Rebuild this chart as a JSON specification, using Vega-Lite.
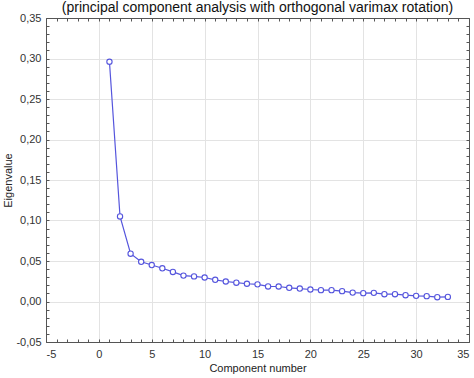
{
  "$schema": "https://vega.github.io/schema/vega-lite/v6.json",
  "width": 423,
  "height": 324,
  "autosize": "none",
  "padding": {"left": 46, "top": 18, "right": 5, "bottom": 36},
  "background": "white",
  "title": {
    "text": "(principal component analysis with orthogonal varimax rotation)",
    "font": "Liberation Sans",
    "fontSize": 14,
    "fontWeight": "normal",
    "color": "#111111",
    "anchor": "middle",
    "offset": -3
  },
  "config": {
    "view": {"stroke": null},
    "axis": {
      "labelFont": "Liberation Sans",
      "titleFont": "Liberation Sans",
      "labelFontSize": 11,
      "titleFontSize": 11,
      "titleFontWeight": "normal",
      "labelColor": "#333333",
      "titleColor": "#222222",
      "domainColor": "#555555",
      "tickColor": "#555555",
      "gridColor": "#e3e3e3"
    }
  },
  "data": {
    "values": [
      {"component": 1, "eigenvalue": 0.296},
      {"component": 2, "eigenvalue": 0.105},
      {"component": 3, "eigenvalue": 0.059},
      {"component": 4, "eigenvalue": 0.049},
      {"component": 5, "eigenvalue": 0.045},
      {"component": 6, "eigenvalue": 0.041},
      {"component": 7, "eigenvalue": 0.0365},
      {"component": 8, "eigenvalue": 0.032},
      {"component": 9, "eigenvalue": 0.031},
      {"component": 10, "eigenvalue": 0.0296},
      {"component": 11, "eigenvalue": 0.0268},
      {"component": 12, "eigenvalue": 0.0247},
      {"component": 13, "eigenvalue": 0.0232},
      {"component": 14, "eigenvalue": 0.0219},
      {"component": 15, "eigenvalue": 0.0212},
      {"component": 16, "eigenvalue": 0.0186},
      {"component": 17, "eigenvalue": 0.0185},
      {"component": 18, "eigenvalue": 0.0169},
      {"component": 19, "eigenvalue": 0.016},
      {"component": 20, "eigenvalue": 0.0148},
      {"component": 21, "eigenvalue": 0.014},
      {"component": 22, "eigenvalue": 0.014},
      {"component": 23, "eigenvalue": 0.0128},
      {"component": 24, "eigenvalue": 0.011},
      {"component": 25, "eigenvalue": 0.0103},
      {"component": 26, "eigenvalue": 0.0107},
      {"component": 27, "eigenvalue": 0.009},
      {"component": 28, "eigenvalue": 0.009},
      {"component": 29, "eigenvalue": 0.0078},
      {"component": 30, "eigenvalue": 0.007},
      {"component": 31, "eigenvalue": 0.0066},
      {"component": 32, "eigenvalue": 0.0053},
      {"component": 33, "eigenvalue": 0.0057}
    ]
  },
  "resolve": {"axis": {"x": "independent", "y": "independent"}},
  "layer": [
    {
      "mark": {"type": "line", "color": "#5555dd", "strokeWidth": 1.2},
      "encoding": {
        "x": {
          "field": "component", "type": "quantitative",
          "scale": {"domain": [-5, 35], "nice": false, "zero": false},
          "axis": {
            "orient": "bottom",
            "title": "Component number",
            "titlePadding": 3,
            "values": [-5,-4,-3,-2,-1,0,1,2,3,4,5,6,7,8,9,10,11,12,13,14,15,16,17,18,19,20,21,22,23,24,25,26,27,28,29,30,31,32,33,34,35],
            "tickSize": -3,
            "labelPadding": 9,
            "labelExpr": "datum.value % 5 === 0 ? '' + datum.value : ''",
            "grid": true,
            "gridOpacity": {"condition": {"test": "datum.value % 5 === 0", "value": 1}, "value": 0}
          }
        },
        "y": {
          "field": "eigenvalue", "type": "quantitative",
          "scale": {"domain": [-0.05, 0.35], "nice": false, "zero": false},
          "axis": {
            "orient": "left",
            "title": "Eigenvalue",
            "titlePadding": 2,
            "values": [-0.05,-0.04,-0.03,-0.02,-0.01,0,0.01,0.02,0.03,0.04,0.05,0.06,0.07,0.08,0.09,0.1,0.11,0.12,0.13,0.14,0.15,0.16,0.17,0.18,0.19,0.2,0.21,0.22,0.23,0.24,0.25,0.26,0.27,0.28,0.29,0.3,0.31,0.32,0.33,0.34,0.35],
            "tickSize": -3,
            "labelPadding": 8,
            "labelExpr": "abs(round(datum.value*100)) % 5 === 0 ? replace(replace(format(datum.value, '.2f'), '.', ','), '\u2212', '-') : ''",
            "grid": true,
            "gridOpacity": {"condition": {"test": "abs(round(datum.value*100)) % 5 === 0", "value": 1}, "value": 0}
          }
        }
      }
    },
    {
      "mark": {"type": "point", "shape": "circle", "filled": false, "fill": "white", "fillOpacity": 1, "stroke": "#5555dd", "strokeWidth": 1.1, "size": 28, "opacity": 1},
      "encoding": {
        "x": {
          "field": "component", "type": "quantitative",
          "axis": {
            "orient": "top",
            "title": null,
            "labels": false,
            "grid": false,
            "values": [-5,-4,-3,-2,-1,0,1,2,3,4,5,6,7,8,9,10,11,12,13,14,15,16,17,18,19,20,21,22,23,24,25,26,27,28,29,30,31,32,33,34,35],
            "tickSize": -3
          }
        },
        "y": {
          "field": "eigenvalue", "type": "quantitative",
          "axis": {
            "orient": "right",
            "title": null,
            "labels": false,
            "grid": false,
            "values": [-0.05,-0.04,-0.03,-0.02,-0.01,0,0.01,0.02,0.03,0.04,0.05,0.06,0.07,0.08,0.09,0.1,0.11,0.12,0.13,0.14,0.15,0.16,0.17,0.18,0.19,0.2,0.21,0.22,0.23,0.24,0.25,0.26,0.27,0.28,0.29,0.3,0.31,0.32,0.33,0.34,0.35],
            "tickSize": -3
          }
        }
      }
    }
  ]
}
